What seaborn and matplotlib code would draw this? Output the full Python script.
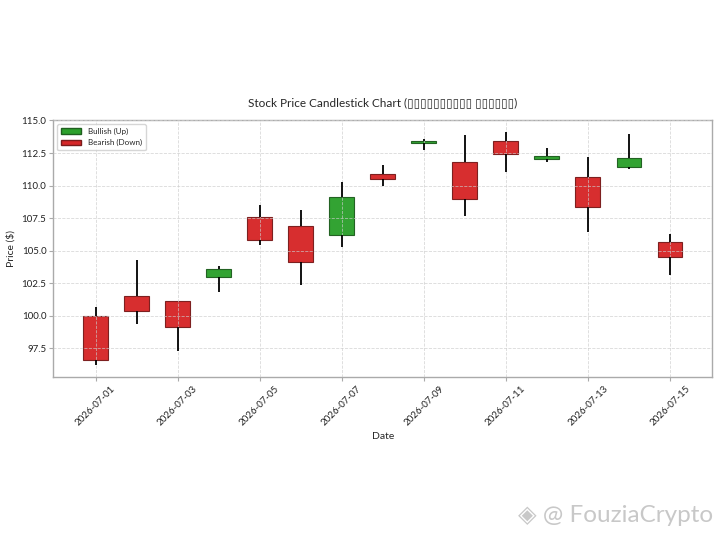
import pandas as pd
import matplotlib
matplotlib.use("Agg")
import matplotlib.pyplot as plt
import matplotlib.dates as mdates
from matplotlib.patches import Patch
import seaborn as sns

dates = ["2026-07-01", "2026-07-02", "2026-07-03", "2026-07-04", "2026-07-05",
         "2026-07-06", "2026-07-07", "2026-07-08", "2026-07-09", "2026-07-10",
         "2026-07-11", "2026-07-12", "2026-07-13", "2026-07-14", "2026-07-15"]
open_ = [100.0, 101.5, 101.1, 103.0, 107.6, 106.9, 106.2, 110.9, 113.25, 111.8,
         113.4, 112.05, 110.65, 111.4, 105.65]
high = [100.7, 104.3, 101.1, 103.8, 108.5, 108.1, 110.3, 111.6, 113.6, 113.9,
        114.15, 112.85, 112.2, 114.0, 106.3]
low = [96.2, 99.4, 97.3, 101.8, 105.45, 102.4, 105.3, 110.0, 112.7, 107.7,
       111.05, 111.8, 106.4, 111.25, 103.15]
close = [96.6, 100.4, 99.1, 103.6, 105.8, 104.1, 109.1, 110.5, 113.4, 109.0,
         112.4, 112.25, 108.35, 112.1, 104.5]

df = pd.DataFrame({"date": pd.to_datetime(dates), "open": open_, "high": high,
                   "low": low, "close": close})
df["up"] = df["close"] >= df["open"]

sns.set_style("whitegrid", {
    "grid.linestyle": "--",
    "grid.color": "#cccccc",
    "axes.edgecolor": "#aaaaaa",
    "xtick.bottom": True,
    "ytick.left": True,
})
FONT = ["Lato", "DejaVu Sans"]
plt.rcParams["font.family"] = FONT

UP = "#2ca02c"
DOWN = "#d62728"
UP_EDGE = "#1f5f1f"
DOWN_EDGE = "#7a1c1c"

fig = plt.figure(figsize=(7.2, 5.4), dpi=100)
ax = fig.add_axes([0.074, 0.302, 0.915, 0.476])

body_top = df[["open", "close"]].max(axis=1)
body_bottom = df[["open", "close"]].min(axis=1)
body_height = body_top - body_bottom

# wicks: above and below the body, on top of the grid
ax.vlines(df["date"], body_top, df["high"], color="black", linewidth=1.3, zorder=4)
ax.vlines(df["date"], df["low"], body_bottom, color="black", linewidth=1.3, zorder=4)

# bodies
colors = [UP if u else DOWN for u in df["up"]]
edges = [UP_EDGE if u else DOWN_EDGE for u in df["up"]]
ax.bar(df["date"], body_height, bottom=body_bottom, width=0.6, color=colors,
       edgecolor=edges, linewidth=0.8, alpha=0.97, zorder=2)

ax.set_axisbelow(False)
ax.grid(True, linestyle="--", color="#cccccc", linewidth=0.6, alpha=0.75, zorder=3)

ax.xaxis.set_major_locator(mdates.DayLocator(interval=2))
ax.xaxis.set_major_formatter(mdates.DateFormatter("%Y-%m-%d"))
plt.setp(ax.get_xticklabels(), rotation=45, ha="center")
ax.tick_params(axis="both", labelsize=7, length=3, width=0.8, color="#aaaaaa",
               pad=2, labelcolor="#222222")

ax.set_xlabel("Date", fontsize=7.5, labelpad=3)
ax.set_ylabel("Price ($)", fontsize=7.5, labelpad=4)
ax.set_title("Stock Price Candlestick Chart (\u25af\u25af\u25af\u25af\u25af\u25af\u25af\u25af\u25af\u25af "
             "\u25af\u25af\u25af\u25af\u25af\u25af)", fontsize=8.5, pad=10)

handles = [Patch(facecolor=UP, edgecolor=UP_EDGE, label="Bullish (Up)"),
           Patch(facecolor=DOWN, edgecolor=DOWN_EDGE, label="Bearish (Down)")]
ax.legend(handles=handles, loc="upper left", fontsize=5.8, frameon=True,
          edgecolor="#cccccc", handlelength=2.5, borderpad=0.5)

for s in ax.spines.values():
    s.set_color("#aaaaaa")
    s.set_linewidth(1.0)

fig.text(0.99, 0.045, "\u25c8 @ FouziaCrypto", ha="right", va="center",
         fontsize=17.5, color="#c8c8c8", family=FONT)

fig.savefig("out.png", dpi=100)
